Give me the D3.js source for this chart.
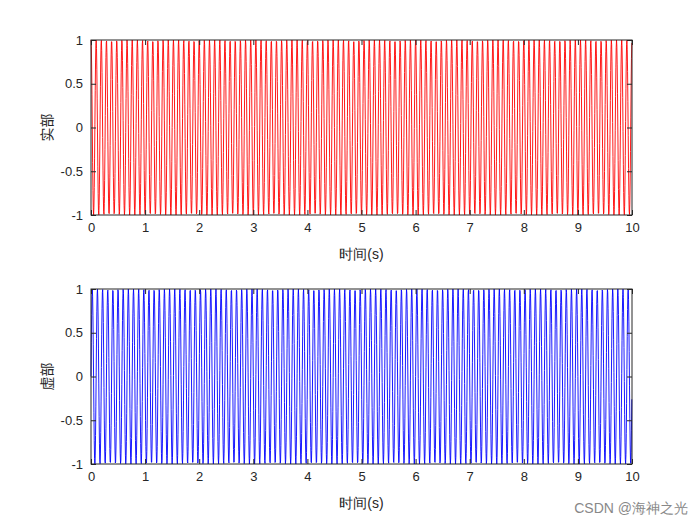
<!DOCTYPE html>
<html><head><meta charset="utf-8">
<script src="https://cdn.jsdelivr.net/npm/d3@7"></script>
<style>body{margin:0;background:#fff}text{font-family:Arial,"Liberation Sans",sans-serif}</style>
</head><body>
<svg id="c" width="700" height="525"></svg>
<script>
// values
const xTicks = [0,1,2,3,4,5,6,7,8,9,10];
const yTicks = [-1,-0.5,0,0.5,1];
const signalHz = 10.5;      // ~10.5 oscillations per second
const sampleStep = 0.006;   // sampling interval (s)
const panels = [
  {label: "实部", color: "#ff0000", phase: 0, top: 40},
  {label: "虚部", color: "#0000ff", phase: -Math.PI / 2, top: 289}
];

const svg = d3.select("#c");
const L = 91, R = 632, H = 175;
const x = d3.scaleLinear().domain([0, 10]).range([L, R]);
const times = d3.range(0, 10 + 1e-9, sampleStep);

panels.forEach(p => {
  const y = d3.scaleLinear().domain([-1, 1]).range([p.top + H, p.top]);
  const g = svg.append("g");
  const vals = times.map(t => Math.cos(2 * Math.PI * signalHz * t + p.phase));
  g.append("path").datum(times)
    .attr("fill", "none").attr("stroke", p.color).attr("stroke-width", 0.9)
    .attr("d", d3.line().x(t => x(t)).y((t, i) => y(vals[i])));
  g.append("rect").attr("x", L).attr("y", p.top).attr("width", R - L).attr("height", H)
    .attr("fill", "none").attr("stroke", "#262626").attr("stroke-width", 1);
  const xa = g.append("g").attr("transform", `translate(0,${p.top + H})`)
    .call(d3.axisBottom(x).tickValues(xTicks).tickSize(-5).tickPadding(8).tickFormat(d3.format("d")));
  const xt = g.append("g").attr("transform", `translate(0,${p.top})`)
    .call(d3.axisTop(x).tickValues(xTicks).tickSize(-5).tickFormat(""));
  const ya = g.append("g").attr("transform", `translate(${L},0)`)
    .call(d3.axisLeft(y).tickValues(yTicks).tickSize(-5).tickPadding(8).tickFormat(d => d));
  const yr = g.append("g").attr("transform", `translate(${R},0)`)
    .call(d3.axisRight(y).tickValues(yTicks).tickSize(-5).tickFormat(""));
  [xa, xt, ya, yr].forEach(a => {
    a.select(".domain").remove();
    a.selectAll("line").attr("stroke", "#262626");
    a.selectAll("text").attr("fill", "#262626").style("font-size", "13px");
  });
  g.append("text").attr("x", (L + R) / 2).attr("y", p.top + H + 44)
    .attr("text-anchor", "middle").attr("fill", "#262626").style("font-size", "14px").text("时间(s)");
  g.append("text").attr("transform", `translate(52,${p.top + H / 2}) rotate(-90)`)
    .attr("text-anchor", "middle").attr("fill", "#262626")
    .style("font-family", "'Noto Sans CJK SC'").style("font-size", "14px").text(p.label);
});

svg.append("text").attr("x", 688).attr("y", 513).attr("text-anchor", "end")
  .attr("fill", "#888").style("font-size", "14px").text("CSDN @海神之光");
</script>
</body></html>
